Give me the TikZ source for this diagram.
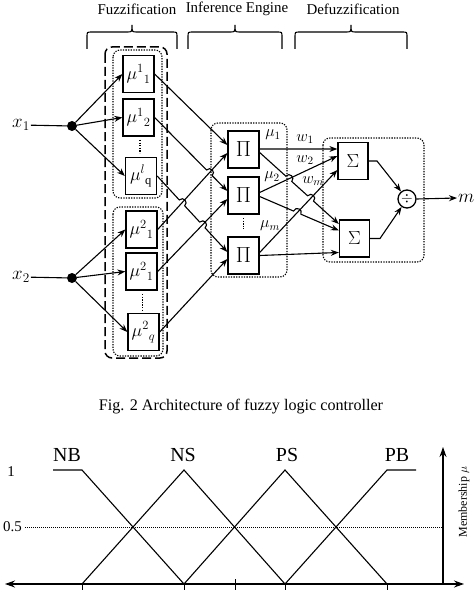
\RequirePackage{fix-cm}
\documentclass[tikz,border=0pt]{standalone}
\usepackage{fontspec}
\setmainfont{Liberation Serif}
\usetikzlibrary{arrows.meta,calc}
\newcommand\topbrace[3]{%
  \draw[bracel] (#1,49) -- (#1,37) .. controls (#1,32) and (#1,32) .. ($(#1,32)+(5,0)$)
    -- ($(#2,32)+(-5,0)$) .. controls (#2,32) and (#2,32) .. (#2,25)
    .. controls (#2,32) and (#2,32) .. ($(#2,32)+(5,0)$)
    -- ($(#3,32)+(-5,0)$) .. controls (#3,32) and (#3,32) .. (#3,37) -- (#3,49);}
\newcommand\hopat[4]{%
  \coordinate (#1a) at ($(#3)!4bp!(#2)$);
  \coordinate (#1b) at ($(#3)!4bp!(#4)$);
  \coordinate (#1c) at ($(#1a)!5.5bp!90:(#3)$);
  \coordinate (#1d) at ($(#1b)!5.5bp!-90:(#3)$);}
\begin{document}
\begin{tikzpicture}[x=1bp,y=-1bp,
  box/.style={draw,line width=1.3bp,minimum width=31bp,minimum height=37bp,inner sep=0pt,font=\fontsize{18}{18}\selectfont},
  conn/.style={line width=1.1bp,-{Stealth[length=8bp,width=6bp]}},
  plain/.style={line width=1.1bp},
  bracel/.style={line width=1.1bp},
  grp/.style={line width=1.1bp,dash pattern=on 1.3bp off 1.3bp,rounded corners=7bp},
  outer/.style={line width=1.5bp,dash pattern=on 9bp off 4bp,rounded corners=7bp},
  dots/.style={line width=1.1bp,dash pattern=on 1.3bp off 1.3bp},
  lab/.style={font=\fontsize{15}{15}\selectfont,inner sep=1pt},
  xlab/.style={font=\fontsize{19}{19}\selectfont,inner sep=1pt},
  wlab/.style={font=\fontsize{16}{16}\selectfont,inner sep=1pt},
  fset/.style={font=\fontsize{20}{20}\selectfont,inner sep=0pt},
  dot/.style={circle,fill,inner sep=0pt,minimum size=10bp},
]
\useasboundingbox (0,0) rectangle (474,596);

% titles and braces
\node[lab] (t1) at (137,9) {Fuzzification};
\node[lab] (t2) at (237,9) {Inference Engine};
\node[lab] (t3) at (353,9) {Defuzzification};
\topbrace{87}{132}{177}
\topbrace{188}{235}{282}
\topbrace{295}{351}{407}

% group frames
\draw[outer] (105,47) rectangle (167,358);
\draw[grp] (113,50) rectangle (162,198);
\draw[grp] (113,207) rectangle (163,356);
\draw[grp] (211,123) rectangle (287,277);
\draw[grp] (323,138) rectangle (424,262);

% inputs
\node[xlab] (x1) at (21,125) {$x_1$};
\node[xlab] (x2) at (21,277) {$x_2$};
\node[dot] (d1) at (72,126) {};
\node[dot] (d2) at (72,278) {};
\draw[plain] (x1) -- (d1);
\draw[plain] (x2) -- (d2);

% fuzzification nodes
\node[box] (m11) at (138.5,74) {${\mu^{1}}_{1}$};
\node[box] (m12) at (138.5,117.5) {${\mu^{1}}_{2}$};
\node[box] (m1q) at (141,176) {${\mu^{l}}_{\mathrm{q}}$};
\node[box] (m21) at (141.5,229.5) {${\mu^{2}}_{1}$};
\node[box] (m22) at (141.5,271.5) {${\mu^{2}}_{1}$};
\node[box] (m2q) at (143.5,332) {${\mu^{2}}_{q}$};
\draw[dots] (140,140) -- (140,153);
\draw[dots] (142.5,294) -- (142.5,310);

\foreach \t in {m11,m12,m1q} \draw[conn] (d1) -- (\t.west);
\foreach \t in {m21,m22,m2q} \draw[conn] (d2) -- (\t.west);

% inference nodes
\node[box,font=\fontsize{22}{22}\selectfont] (P1) at (243.5,149.5) {$\Pi$};
\node[box,font=\fontsize{22}{22}\selectfont] (P2) at (243.5,195.5) {$\Pi$};
\node[box,font=\fontsize{22}{22}\selectfont] (P3) at (243.5,255.5) {$\Pi$};
\draw[dots] (243.5,218) -- (243.5,229);

% fuzz -> inference
\coordinate (a1) at (m11.east); \coordinate (a1e) at ([yshift=4.5bp]P1.west);
\coordinate (a4) at (m21.east); \coordinate (a4e) at ([yshift=-3.5bp]P1.west);
\coordinate (a2) at (m12.east); \coordinate (a2e) at ([yshift=4.5bp]P2.west);
\coordinate (a5) at (m22.east); \coordinate (a5e) at ([yshift=-3.5bp]P2.west);
\coordinate (a3) at (m1q.east); \coordinate (a3e) at ([yshift=3.5bp]P3.west);
\coordinate (a6) at (m2q.east); \coordinate (a6e) at ([yshift=-3.5bp]P3.west);
\coordinate (X24) at (intersection of a2--a2e and a4--a4e);
\coordinate (X34) at (intersection of a3--a3e and a4--a4e);
\coordinate (X35) at (intersection of a3--a3e and a5--a5e);
\hopat{ha}{a2}{X24}{a2e}
\hopat{hb}{a3}{X34}{a3e}
\hopat{hc}{a3}{X35}{a3e}
\draw[conn] (a1) -- (a1e);
\draw[conn] (a4) -- (a4e);
\draw[conn] (a5) -- (a5e);
\draw[conn] (a6) -- (a6e);
\draw[conn] (a2) -- (haa) .. controls (hac) and (had) .. (hab) -- (a2e);
\draw[conn] (a3) -- (hba) .. controls (hbc) and (hbd) .. (hbb) -- (hca) .. controls (hcc) and (hcd) .. (hcb) -- (a3e);

% defuzzification nodes
\node[box,minimum width=30bp,font=\fontsize{19}{19}\selectfont] (S1) at (353,161) {$\Sigma$};
\node[box,minimum width=30bp,font=\fontsize{19}{19}\selectfont] (S2) at (354.5,238.5) {$\Sigma$};
\node[circle,draw,line width=1.3bp,minimum size=18bp,inner sep=0pt,font=\fontsize{15}{15}\selectfont] (D) at (407,199) {$\div$};
\node[anchor=west,inner sep=1pt,font=\fontsize{19}{19}\selectfont] (mo) at (457,198) {$m$};

% inference -> defuzz
\coordinate (b1) at ([yshift=0.5bp]P1.east); \coordinate (b1e) at ([yshift=12bp]S1.west);
\coordinate (b2) at ([yshift=-3bp]P1.east);  \coordinate (b2e) at ([yshift=14.5bp]S2.west);
\coordinate (b3) at ([yshift=3bp]P2.east);   \coordinate (b3e) at ([yshift=5bp]S1.west);
\coordinate (b4) at ([yshift=-1bp]P2.east);  \coordinate (b4e) at ([yshift=8bp]S2.west);
\coordinate (b5) at ([yshift=3bp]P3.east);   \coordinate (b5e) at ([yshift=-9bp]S1.west);
\coordinate (b6) at (P3.east);               \coordinate (b6e) at ([yshift=-14bp]S2.west);
\coordinate (Y23) at (intersection of b2--b2e and b3--b3e);
\coordinate (Y25) at (intersection of b2--b2e and b5--b5e);
\coordinate (Y45) at (intersection of b4--b4e and b5--b5e);
\hopat{hd}{b2}{Y23}{b2e}
\hopat{he}{b2}{Y25}{b2e}
\hopat{hf}{b4}{Y45}{b4e}
\draw[conn] (b1) -- (b1e);
\draw[conn] (b3) -- (b3e);
\draw[conn] (b5) -- (b5e);
\draw[conn] (b6) -- (b6e);
\draw[conn] (b2) -- (hda) .. controls (hdc) and (hdd) .. (hdb) -- (hea) .. controls (hec) and (hed) .. (heb) -- (b2e);
\draw[conn] (b4) -- (hfa) .. controls (hfc) and (hfd) .. (hfb) -- (b4e);

\node[wlab] (mu1) at (273,135) {$\mu_1$};
\node[wlab] (mu2) at (272,177) {$\mu_2$};
\node[wlab] (mum) at (270,226) {$\mu_m$};
\node[wlab] (w1) at (305,139) {$w_1$};
\node[wlab] (w2) at (305,160) {$w_2$};
\node[wlab] (wm) at (313,181) {$w_m$};

\coordinate (k1) at (377,161);
\coordinate (k2) at (380,238.5);
\draw[conn] (S1.east) -- (k1) -- (D);
\draw[conn] (S2.east) -- (k2) -- (D);
\draw[conn] (D.east) -- (mo.west);

% caption
\node[font=\fontsize{16.2}{16.2}\selectfont,inner sep=1pt] (cap) at (241,407) {Fig. 2 Architecture of fuzzy logic controller};

% membership chart
\draw[line width=0.6bp,dash pattern=on 1bp off 1bp] (25,527) -- (443,527);
\draw[line width=1.1bp,{Stealth[length=10bp,width=7bp]}-{Stealth[length=10bp,width=7bp]}] (5,584) -- (464,584);
\draw[line width=1.1bp,-{Stealth[length=10bp,width=7bp]}] (443,584) -- (443,447);
\foreach \xx in {82,184,285,387} \draw[line width=0.9bp] (\xx,584) -- (\xx,590);
\draw[line width=0.9bp] (235,579) -- (235,590);
\draw[line width=1.1bp] (53,470) -- (82,470) -- (184,584);
\draw[line width=1.1bp] (82,584) -- (184,470) -- (285,584);
\draw[line width=1.1bp] (184,584) -- (285,470) -- (387,584);
\draw[line width=1.1bp] (285,584) -- (387,470) -- (416,470);
\node[fset] (nb) at (67,455) {NB};
\node[fset] (ns) at (183,455) {NS};
\node[fset] (ps) at (287,455) {PS};
\node[fset] (pb) at (397,455) {PB};
\node[lab] (one) at (11,472) {1};
\node[lab,anchor=east] (half) at (23,527) {0.5};
\node[font=\fontsize{12}{12}\selectfont,rotate=90,inner sep=0pt] (memb) at (464,502) {Membership $\mu$};
\end{tikzpicture}
\end{document}
